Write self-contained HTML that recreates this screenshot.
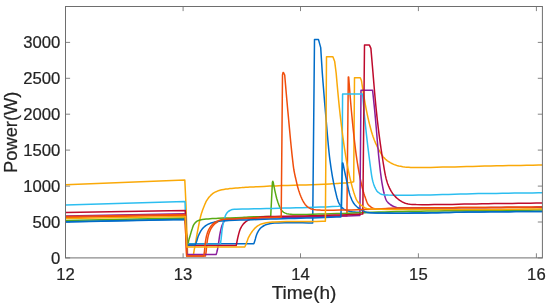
<!DOCTYPE html>
<html lang="en">
<head>
<meta charset="utf-8">
<title>Power vs Time</title>
<style>
html,body{margin:0;padding:0;background:#fff;}
body{width:550px;height:306px;overflow:hidden;}
svg{display:block;}
</style>
</head>
<body>
<svg width="550" height="306" viewBox="0 0 550 306">
<rect width="550" height="306" fill="#fff"/>
<path fill="none" stroke="#6e6e6e" stroke-width="0.85" d="M65.50,257.9 v-4.6 M65.50,6.5 v4.6 M183.10,257.9 v-4.6 M183.10,6.5 v4.6 M300.50,257.9 v-4.6 M300.50,6.5 v4.6 M418.40,257.9 v-4.6 M418.40,6.5 v4.6 M536.40,257.9 v-4.6 M536.40,6.5 v4.6 M65.5,257.9 h4.6 M542.4,257.9 h-4.6 M65.5,222.0 h4.6 M542.4,222.0 h-4.6 M65.5,186.1 h4.6 M542.4,186.1 h-4.6 M65.5,150.1 h4.6 M542.4,150.1 h-4.6 M65.5,114.2 h4.6 M542.4,114.2 h-4.6 M65.5,78.3 h4.6 M542.4,78.3 h-4.6 M65.5,42.4 h4.6 M542.4,42.4 h-4.6"/>
<g fill="none" stroke-width="1.5" stroke-linejoin="round" stroke-linecap="butt">
<path stroke="#FAA908" d="M65.5,184.7 L184.8,180.1 L186.0,205.0 L187.6,254.8 L193.4,254.8 L193.8,252.5 L194.2,250.2 L194.6,247.9 L195.0,245.6 L195.4,243.3 L195.8,241.1 L196.2,238.9 L196.6,236.7 L197.0,234.4 L197.4,232.2 L197.8,230.1 L198.2,228.0 L198.6,226.0 L199.0,224.0 L199.4,222.0 L199.8,220.1 L200.2,218.2 L200.6,216.5 L201.0,215.0 L201.4,213.6 L201.8,212.4 L202.2,211.2 L202.6,210.1 L203.0,209.0 L203.4,208.0 L203.8,207.0 L204.2,206.0 L204.6,205.0 L205.0,204.0 L205.4,203.1 L205.8,202.2 L206.2,201.4 L206.6,200.7 L207.0,200.1 L207.4,199.5 L207.8,198.9 L208.6,197.8 L209.4,196.8 L210.2,196.0 L211.0,195.1 L211.8,194.4 L212.6,193.7 L213.4,193.1 L214.2,192.6 L215.0,192.2 L215.8,191.8 L216.6,191.5 L217.4,191.1 L218.2,190.8 L219.0,190.6 L219.8,190.3 L221.8,189.8 L223.8,189.4 L225.8,189.1 L227.8,188.9 L229.8,188.6 L231.8,188.4 L233.8,188.2 L235.8,188.0 L237.8,187.9 L239.8,187.7 L241.8,187.6 L243.8,187.4 L245.8,187.3 L247.8,187.2 L249.8,187.1 L251.8,187.0 L253.8,186.9 L255.8,186.8 L257.8,186.7 L263.8,186.4 L269.8,186.1 L275.8,185.9 L281.8,185.6 L287.8,185.4 L293.8,185.2 L299.8,185.1 L305.8,184.9 L311.8,184.7 L317.8,184.5 L323.8,184.2 L329.8,183.9 L331.8,183.8 L333.8,183.7 L335.8,183.6 L337.8,183.4 L339.8,183.3 L341.8,183.2 L343.8,183.0 L345.8,182.9 L347.8,182.7 L349.8,182.5 L351.8,182.2 L353.7,181.8 L354.5,77.8 L360.3,77.8 L361.5,80.8 L361.9,83.5 L362.3,86.2 L362.7,88.8 L363.1,91.3 L363.5,93.8 L363.9,96.3 L364.3,98.7 L364.7,101.0 L365.1,103.3 L365.5,105.5 L365.9,107.6 L366.3,109.7 L366.7,111.7 L367.1,113.6 L367.5,115.5 L367.9,117.3 L368.3,119.0 L368.7,120.8 L369.1,122.5 L369.5,124.1 L369.9,125.7 L370.3,127.3 L370.7,128.8 L371.1,130.3 L371.5,131.7 L371.9,133.0 L372.3,134.3 L372.7,135.5 L373.1,136.7 L373.5,137.8 L373.9,138.9 L374.3,140.0 L374.7,141.0 L375.1,141.9 L375.5,142.9 L375.9,143.8 L376.3,144.7 L376.7,145.5 L377.1,146.4 L377.5,147.2 L377.9,148.0 L378.3,148.7 L378.7,149.5 L379.1,150.2 L379.5,150.9 L379.9,151.6 L380.3,152.3 L380.7,153.0 L381.1,153.6 L381.5,154.3 L381.9,154.9 L382.3,155.5 L383.1,156.6 L383.9,157.6 L384.7,158.4 L385.5,159.2 L386.3,159.9 L387.1,160.6 L387.9,161.2 L388.7,161.7 L389.5,162.2 L390.3,162.7 L391.1,163.1 L391.9,163.5 L392.7,163.9 L393.5,164.2 L394.3,164.6 L395.1,164.9 L395.9,165.1 L396.7,165.4 L398.7,165.9 L400.7,166.3 L402.7,166.7 L404.7,167.0 L406.7,167.2 L408.7,167.3 L410.7,167.5 L412.7,167.6 L418.7,167.6 L424.7,167.5 L430.7,167.4 L436.7,167.3 L442.7,167.1 L448.7,167.0 L454.7,166.9 L460.7,166.7 L466.7,166.5 L472.7,166.4 L478.7,166.2 L484.7,166.1 L490.7,166.0 L496.7,165.8 L502.7,165.7 L508.7,165.6 L514.7,165.5 L520.7,165.4 L526.7,165.3 L532.7,165.2 L538.7,165.1 L542.5,165.0"/>
<path stroke="#006CC8" d="M65.5,222.0 L125.0,220.7 L185.4,219.4 L186.9,243.8 L253.8,243.8 L254.2,242.7 L254.6,241.6 L255.0,240.3 L255.4,238.9 L255.8,237.3 L256.2,235.9 L256.6,234.8 L257.0,233.8 L257.4,232.9 L257.8,232.1 L258.2,231.4 L258.6,230.7 L259.0,230.1 L259.4,229.5 L260.2,228.5 L261.0,227.7 L261.8,227.1 L262.6,226.5 L263.4,226.0 L264.2,225.5 L265.0,225.1 L265.8,224.8 L266.6,224.5 L268.6,224.0 L270.6,223.6 L272.6,223.3 L274.6,223.1 L276.6,223.0 L278.6,222.9 L284.6,222.8 L290.6,222.8 L296.6,222.8 L302.6,222.8 L308.6,222.9 L312.7,222.9 L314.5,39.6 L318.5,39.6 L320.7,47.6 L322.3,73.0 L322.7,78.2 L323.1,83.3 L323.5,88.3 L323.9,93.3 L324.3,98.2 L324.7,103.1 L325.1,107.8 L325.5,112.5 L325.9,117.2 L326.3,121.8 L326.7,126.5 L327.1,131.3 L327.5,136.0 L327.9,140.5 L328.3,144.9 L328.7,149.1 L329.1,153.0 L329.5,156.6 L329.9,159.8 L330.3,162.7 L330.7,165.6 L331.1,168.3 L331.5,170.9 L331.9,173.4 L332.3,175.8 L332.7,178.1 L333.1,180.2 L333.5,182.3 L333.9,184.3 L334.3,186.2 L334.7,188.0 L335.1,189.8 L335.5,191.5 L335.9,193.2 L336.3,194.9 L336.7,196.5 L337.1,198.0 L337.5,199.3 L337.9,200.6 L338.3,201.7 L338.7,202.6 L339.1,203.4 L339.5,204.1 L339.9,204.7 L340.3,205.3 L341.1,206.5 L341.9,207.4 L342.7,208.2 L343.5,208.8 L344.3,209.3 L345.1,209.7 L345.9,210.1 L346.7,210.4 L347.5,210.7 L348.3,210.9 L350.3,211.4 L352.3,211.7 L354.3,211.9 L356.3,212.2 L358.3,212.3 L360.3,212.4 L366.3,212.6 L372.3,212.8 L378.3,213.0 L384.3,213.1 L390.3,213.2 L396.3,213.2 L402.3,213.2 L408.3,213.2 L414.3,213.1 L420.3,213.0 L426.3,212.9 L432.3,212.8 L438.3,212.7 L444.3,212.5 L450.3,212.4 L456.3,212.3 L462.3,212.2 L468.3,212.1 L474.3,212.0 L480.3,211.9 L486.3,211.8 L492.3,211.8 L498.3,211.7 L504.3,211.7 L510.3,211.7 L516.3,211.6 L522.3,211.6 L528.3,211.5 L534.3,211.5 L540.3,211.5 L542.5,211.5"/>
<path stroke="#F04E0C" d="M65.5,217.5 L125.0,216.2 L184.9,215.2 L186.7,256.1 L205.4,256.1 L205.8,254.1 L206.2,251.1 L206.6,246.4 L207.0,242.9 L207.4,240.1 L207.8,237.8 L208.2,236.0 L208.6,234.6 L209.0,233.3 L209.4,232.1 L209.8,231.1 L210.2,230.2 L210.6,229.4 L211.0,228.7 L211.4,228.0 L211.8,227.4 L212.6,226.3 L213.4,225.3 L214.2,224.4 L215.0,223.6 L215.8,223.0 L216.6,222.5 L217.4,222.0 L218.2,221.6 L219.0,221.2 L219.8,220.8 L220.6,220.5 L221.4,220.2 L222.2,219.9 L223.0,219.7 L225.0,219.3 L227.0,219.2 L229.0,219.0 L235.0,218.8 L241.0,218.5 L247.0,218.2 L253.0,218.0 L259.0,217.8 L265.0,217.6 L271.0,217.4 L277.0,217.3 L283.0,217.2 L289.0,217.0 L295.0,216.9 L301.0,216.8 L307.0,216.7 L313.0,216.6 L319.0,216.5 L325.0,216.4 L331.0,216.3 L337.0,216.2 L343.0,216.1 L346.9,216.0 L348.3,77.1 L348.7,77.1 L349.1,82.5 L349.5,87.7 L349.9,92.8 L350.3,97.8 L350.7,102.7 L351.1,107.3 L351.5,111.8 L351.9,116.0 L352.3,120.1 L352.7,124.1 L353.1,128.1 L353.5,131.9 L353.9,135.7 L354.3,139.3 L354.7,142.8 L355.1,146.2 L355.5,149.5 L355.9,152.6 L356.3,155.6 L356.7,158.3 L357.1,161.0 L357.5,163.5 L357.9,165.9 L358.3,168.3 L358.7,170.6 L359.1,172.8 L359.5,174.9 L359.9,177.0 L360.3,179.0 L360.7,180.9 L361.1,182.7 L361.5,184.5 L361.9,186.2 L362.3,187.8 L362.7,189.4 L363.1,190.8 L363.5,192.2 L363.9,193.5 L364.3,194.7 L364.7,195.9 L365.1,197.0 L365.5,198.2 L365.9,199.3 L366.3,200.4 L366.7,201.5 L367.1,202.5 L367.5,203.3 L367.9,204.1 L368.3,204.7 L369.1,205.6 L369.9,206.2 L370.7,206.8 L371.5,207.4 L372.3,207.8 L373.1,208.3 L373.9,208.6 L374.7,208.8 L376.7,209.0 L382.7,208.9 L388.7,208.6 L390.7,208.5 L392.7,208.4 L398.7,208.1 L404.7,208.0 L410.7,208.0 L416.7,207.9 L422.7,207.8 L428.7,207.8 L434.7,207.8 L440.7,207.7 L446.7,207.7 L452.7,207.7 L458.7,207.6 L464.7,207.6 L470.7,207.6 L476.7,207.5 L482.7,207.5 L488.7,207.4 L494.7,207.4 L500.7,207.4 L506.7,207.3 L512.7,207.3 L518.7,207.2 L524.7,207.2 L530.7,207.2 L536.7,207.1 L542.5,207.1"/>
<path stroke="#8A1E9C" d="M65.5,215.9 L185.3,213.7 L187.0,254.6 L216.0,254.6 L216.4,253.6 L216.8,252.4 L217.2,250.8 L217.6,248.9 L218.0,246.7 L218.4,244.4 L218.8,241.7 L219.2,238.7 L219.6,235.9 L220.0,233.6 L220.4,231.6 L220.8,229.8 L221.2,228.1 L221.6,226.7 L222.0,225.5 L222.4,224.6 L222.8,223.7 L223.2,222.9 L223.6,222.2 L224.0,221.6 L224.8,220.7 L225.6,220.3 L226.4,220.0 L227.2,219.8 L229.2,219.4 L231.2,219.2 L233.2,219.0 L235.2,218.9 L237.2,218.8 L239.2,218.7 L245.2,218.5 L251.2,218.3 L257.2,218.1 L263.2,218.0 L269.2,217.8 L275.2,217.7 L281.2,217.5 L287.2,217.4 L293.2,217.3 L299.2,217.2 L305.2,217.1 L311.2,216.9 L317.2,216.8 L323.2,216.6 L329.2,216.5 L335.2,216.3 L341.2,216.1 L347.2,216.0 L353.2,215.8 L359.2,215.6 L359.9,215.6 L361.0,90.3 L372.6,90.3 L373.0,94.1 L373.4,97.9 L373.8,101.8 L374.2,105.7 L374.6,109.8 L375.0,113.9 L375.4,118.1 L375.8,122.6 L376.2,127.3 L376.6,132.0 L377.0,136.9 L377.4,141.7 L377.8,146.3 L378.2,150.8 L378.6,155.1 L379.0,159.0 L379.4,162.7 L379.8,166.3 L380.2,169.8 L380.6,173.1 L381.0,176.2 L381.4,179.1 L381.8,181.8 L382.2,184.2 L382.6,186.4 L383.0,188.5 L383.4,190.5 L383.8,192.3 L384.2,193.9 L384.6,195.3 L385.0,196.7 L385.4,198.0 L385.8,199.1 L386.2,200.0 L386.6,200.8 L387.0,201.4 L387.8,202.4 L388.6,203.2 L389.4,203.8 L390.2,204.5 L391.0,205.0 L391.8,205.5 L392.6,206.0 L393.4,206.3 L394.2,206.6 L395.0,206.9 L395.8,207.2 L396.6,207.5 L397.4,207.7 L399.4,208.1 L401.4,208.1 L407.4,208.1 L413.4,208.1 L419.4,208.1 L425.4,208.0 L431.4,208.0 L437.4,208.0 L443.4,207.9 L449.4,207.9 L455.4,207.9 L461.4,207.8 L467.4,207.8 L473.4,207.7 L479.4,207.7 L485.4,207.7 L491.4,207.6 L497.4,207.6 L503.4,207.6 L509.4,207.5 L515.4,207.5 L521.4,207.4 L527.4,207.4 L533.4,207.4 L539.4,207.3 L542.5,207.3"/>
<path stroke="#58AA14" d="M65.5,220.5 L125.0,219.3 L185.4,218.0 L186.9,244.0 L188.2,244.0 L188.6,241.0 L189.0,239.3 L189.4,238.1 L189.8,236.8 L190.2,235.4 L190.6,234.0 L191.0,232.6 L191.4,231.3 L191.8,230.0 L192.2,228.8 L192.6,227.5 L193.0,226.4 L193.4,225.4 L193.8,224.6 L194.6,223.5 L195.4,222.6 L196.2,221.8 L197.0,221.2 L197.8,220.8 L198.6,220.5 L199.4,220.2 L200.2,219.9 L202.2,219.5 L204.2,219.3 L206.2,219.1 L208.2,218.9 L210.2,218.7 L212.2,218.6 L214.2,218.5 L216.2,218.4 L218.2,218.3 L224.2,218.1 L230.2,217.9 L236.2,217.7 L242.2,217.4 L244.2,217.3 L246.2,217.2 L248.2,217.1 L254.2,216.8 L260.2,216.7 L266.2,216.5 L270.7,216.5 L272.4,182.2 L272.8,181.3 L273.2,182.2 L273.6,184.4 L274.0,186.4 L274.4,188.4 L274.8,190.3 L275.2,192.1 L275.6,193.9 L276.0,195.6 L276.4,197.2 L276.8,198.7 L277.2,200.0 L277.6,201.3 L278.0,202.5 L278.4,203.6 L278.8,204.7 L279.2,205.6 L279.6,206.6 L280.0,207.5 L280.4,208.3 L280.8,209.1 L281.2,209.7 L282.0,210.7 L282.8,211.6 L283.6,212.3 L284.4,212.7 L285.2,213.1 L286.0,213.4 L286.8,213.7 L288.8,214.1 L290.8,214.3 L292.8,214.5 L294.8,214.6 L300.8,214.6 L306.8,214.4 L312.8,214.3 L318.8,214.1 L324.8,214.0 L330.8,213.8 L336.8,213.6 L342.8,213.4 L348.8,213.2 L354.8,213.0 L360.8,212.8 L366.8,212.5 L372.8,212.3 L378.8,212.1 L384.8,211.9 L390.8,211.7 L396.8,211.6 L402.8,211.4 L408.8,211.3 L414.8,211.2 L420.8,211.2 L426.8,211.1 L432.8,211.0 L438.8,210.9 L444.8,210.8 L450.8,210.8 L456.8,210.7 L462.8,210.7 L468.8,210.6 L474.8,210.6 L480.8,210.5 L486.8,210.5 L492.8,210.4 L498.8,210.4 L504.8,210.3 L510.8,210.3 L516.8,210.2 L522.8,210.2 L528.8,210.2 L534.8,210.1 L540.8,210.1 L542.5,210.1"/>
<path stroke="#2CBEF0" d="M65.5,205.0 L125.0,203.2 L185.0,201.6 L186.6,244.2 L220.3,244.2 L220.7,242.0 L221.1,239.2 L221.5,235.3 L221.9,231.3 L222.3,228.4 L222.7,226.2 L223.1,224.2 L223.5,222.5 L223.9,220.9 L224.3,219.4 L224.7,217.9 L225.1,216.6 L225.5,215.4 L225.9,214.6 L226.3,213.9 L226.7,213.3 L227.5,212.3 L228.3,211.5 L229.1,211.0 L229.9,210.5 L230.7,210.1 L231.5,209.8 L232.3,209.5 L234.3,209.3 L236.3,209.2 L242.3,209.0 L248.3,208.9 L254.3,208.8 L260.3,208.7 L266.3,208.5 L272.3,208.4 L278.3,208.3 L284.3,208.1 L290.3,208.0 L296.3,207.8 L302.3,207.7 L308.3,207.5 L314.3,207.3 L320.3,207.1 L326.3,206.9 L332.3,206.6 L338.3,206.3 L340.3,206.1 L341.7,206.0 L342.6,94.0 L362.6,94.0 L364.4,115.0 L364.8,119.0 L365.2,122.9 L365.6,126.7 L366.0,130.4 L366.4,134.1 L366.8,137.7 L367.2,141.2 L367.6,144.6 L368.0,147.9 L368.4,151.2 L368.8,154.4 L369.2,157.5 L369.6,160.5 L370.0,163.6 L370.4,166.7 L370.8,169.7 L371.2,172.6 L371.6,175.3 L372.0,177.6 L372.4,179.6 L372.8,181.2 L373.2,182.6 L373.6,183.9 L374.0,185.1 L374.4,186.1 L374.8,187.1 L375.2,187.9 L375.6,188.8 L376.0,189.5 L376.4,190.2 L376.8,190.9 L377.6,191.8 L378.4,192.4 L379.2,193.0 L380.0,193.6 L380.8,194.0 L381.6,194.4 L382.4,194.6 L384.4,194.9 L386.4,195.0 L388.4,195.1 L394.4,195.2 L400.4,195.3 L406.4,195.3 L412.4,195.2 L418.4,195.1 L424.4,195.0 L430.4,194.9 L436.4,194.7 L442.4,194.5 L448.4,194.4 L454.4,194.2 L460.4,194.0 L466.4,193.9 L472.4,193.7 L478.4,193.6 L484.4,193.5 L490.4,193.4 L496.4,193.4 L502.4,193.3 L508.4,193.2 L514.4,193.1 L520.4,193.0 L526.4,193.0 L532.4,192.9 L538.4,192.8 L542.5,192.8"/>
<path stroke="#BE0A2C" d="M65.5,212.6 L125.0,211.6 L185.3,210.5 L187.0,245.6 L236.2,245.6 L236.6,243.5 L237.0,241.5 L237.4,239.5 L237.8,237.7 L238.2,236.0 L238.6,234.4 L239.0,232.9 L239.4,231.5 L239.8,230.3 L240.2,229.2 L240.6,228.4 L241.0,227.6 L241.4,226.8 L241.8,226.2 L242.2,225.5 L242.6,225.0 L243.4,223.9 L244.2,223.1 L245.0,222.4 L245.8,221.7 L246.6,221.1 L247.4,220.6 L248.2,220.2 L249.0,219.8 L249.8,219.4 L250.6,219.1 L251.4,218.8 L252.2,218.5 L253.0,218.3 L255.0,217.8 L257.0,217.4 L259.0,217.2 L261.0,216.9 L263.0,216.8 L269.0,216.6 L275.0,216.4 L281.0,216.3 L287.0,216.2 L293.0,216.1 L299.0,216.0 L305.0,215.9 L311.0,215.8 L317.0,215.7 L323.0,215.5 L329.0,215.3 L335.0,215.1 L341.0,214.9 L347.0,214.7 L353.0,214.5 L359.0,214.3 L362.8,214.1 L364.5,45.1 L369.4,45.1 L370.9,48.4 L373.0,73.0 L373.4,77.9 L373.8,82.8 L374.2,87.5 L374.6,92.2 L375.0,96.7 L375.4,101.1 L375.8,105.3 L376.2,109.4 L376.6,113.2 L377.0,116.9 L377.4,120.5 L377.8,123.9 L378.2,127.3 L378.6,130.6 L379.0,133.8 L379.4,136.9 L379.8,139.9 L380.2,142.9 L380.6,145.7 L381.0,148.5 L381.4,151.2 L381.8,153.9 L382.2,156.5 L382.6,159.0 L383.0,161.5 L383.4,164.0 L383.8,166.4 L384.2,168.8 L384.6,171.1 L385.0,173.3 L385.4,175.4 L385.8,177.2 L386.2,178.9 L386.6,180.3 L387.0,181.6 L387.4,182.9 L387.8,184.0 L388.2,185.0 L388.6,186.0 L389.0,186.9 L389.4,187.8 L389.8,188.6 L390.2,189.4 L390.6,190.1 L391.0,190.9 L391.4,191.6 L391.8,192.2 L392.2,192.8 L392.6,193.4 L393.4,194.5 L394.2,195.5 L395.0,196.3 L395.8,197.1 L396.6,197.9 L397.4,198.5 L398.2,199.2 L399.0,199.8 L399.8,200.4 L400.6,200.9 L401.4,201.4 L402.2,201.9 L403.0,202.3 L403.8,202.6 L404.6,203.0 L405.4,203.3 L406.2,203.5 L408.2,203.9 L410.2,204.2 L412.2,204.4 L414.2,204.5 L416.2,204.6 L422.2,204.7 L428.2,204.7 L434.2,204.6 L440.2,204.6 L446.2,204.5 L452.2,204.4 L458.2,204.3 L464.2,204.1 L470.2,204.0 L476.2,203.9 L482.2,203.8 L488.2,203.7 L494.2,203.6 L500.2,203.5 L506.2,203.4 L512.2,203.4 L518.2,203.3 L524.2,203.2 L530.2,203.2 L536.2,203.1 L542.2,203.1 L542.5,203.1"/>
<path stroke="#006CC8" d="M65.5,221.8 L125.0,220.5 L185.4,219.2 L186.9,245.0 L195.0,245.0 L195.8,243.6 L196.2,242.6 L196.6,241.5 L197.0,240.2 L197.4,238.8 L197.8,237.5 L198.2,236.3 L198.6,235.4 L199.0,234.5 L199.4,233.6 L199.8,232.8 L200.2,232.1 L200.6,231.4 L201.0,230.7 L201.4,230.1 L202.2,229.0 L203.0,228.1 L203.8,227.3 L204.6,226.6 L205.4,225.9 L206.2,225.3 L207.0,224.8 L207.8,224.4 L208.6,224.0 L209.4,223.7 L210.2,223.3 L211.0,223.1 L211.8,222.8 L212.6,222.6 L214.6,222.0 L216.6,221.6 L218.6,221.3 L220.6,221.1 L222.6,220.9 L224.6,220.8 L226.6,220.7 L228.6,220.6 L234.6,220.3 L240.6,220.1 L246.6,219.9 L252.6,219.7 L258.6,219.5 L264.6,219.3 L270.6,219.1 L276.6,218.9 L282.6,218.8 L288.6,218.6 L294.6,218.4 L300.6,218.2 L306.6,218.1 L312.6,217.9 L318.6,217.7 L324.6,217.5 L330.6,217.3 L336.6,217.1 L340.9,217.0 L342.4,163.1 L342.9,163.1 L343.3,165.0 L343.7,167.0 L344.1,168.9 L344.5,170.8 L344.9,172.6 L345.3,174.5 L345.7,176.4 L346.1,178.2 L346.5,180.0 L346.9,181.9 L347.3,183.8 L347.7,185.7 L348.1,187.6 L348.5,189.5 L348.9,191.2 L349.3,192.8 L349.7,194.2 L350.1,195.4 L350.5,196.5 L350.9,197.5 L351.3,198.5 L351.7,199.5 L352.1,200.4 L352.5,201.2 L352.9,201.9 L353.3,202.6 L353.7,203.3 L354.5,204.3 L355.3,205.2 L356.1,206.0 L356.9,206.8 L357.7,207.5 L358.5,208.0 L359.3,208.6 L360.1,209.1 L360.9,209.5 L361.7,210.0 L362.5,210.4 L363.3,210.8 L364.1,211.2 L364.9,211.6 L365.7,211.9 L366.5,212.2 L368.5,212.6 L370.5,212.7 L376.5,212.9 L382.5,213.0 L388.5,213.1 L394.5,213.2 L400.5,213.2 L406.5,213.2 L412.5,213.1 L418.5,213.1 L424.5,213.0 L430.5,212.8 L436.5,212.7 L442.5,212.6 L448.5,212.5 L454.5,212.3 L460.5,212.2 L466.5,212.1 L472.5,212.0 L478.5,211.9 L484.5,211.9 L490.5,211.8 L496.5,211.8 L502.5,211.7 L508.5,211.7 L514.5,211.6 L520.5,211.6 L526.5,211.6 L532.5,211.5 L538.5,211.5 L542.5,211.5"/>
<path stroke="#F04E0C" d="M65.5,216.5 L125.0,215.4 L184.9,214.5 L186.7,256.1 L203.7,256.1 L204.1,254.1 L204.5,251.1 L204.9,246.4 L205.3,242.9 L205.7,240.1 L206.1,237.8 L206.5,236.0 L206.9,234.6 L207.3,233.3 L207.7,232.1 L208.1,231.1 L208.5,230.2 L208.9,229.4 L209.3,228.7 L209.7,228.0 L210.1,227.4 L210.9,226.3 L211.7,225.3 L212.5,224.4 L213.3,223.6 L214.1,223.0 L214.9,222.5 L215.7,222.0 L216.5,221.6 L217.3,221.2 L218.1,220.8 L218.9,220.5 L219.7,220.2 L220.5,219.9 L221.3,219.7 L223.3,219.3 L225.3,219.2 L227.3,219.1 L233.3,218.9 L239.3,218.6 L245.3,218.3 L251.3,218.1 L257.3,217.8 L263.3,217.6 L269.3,217.5 L275.3,217.3 L281.2,217.2 L282.5,75.0 L283.0,72.6 L283.5,72.6 L284.7,75.0 L285.1,79.7 L285.5,84.4 L285.9,89.1 L286.3,93.7 L286.7,98.2 L287.1,102.7 L287.5,107.2 L287.9,111.6 L288.3,115.9 L288.7,120.2 L289.1,124.6 L289.5,128.9 L289.9,133.2 L290.3,137.5 L290.7,141.7 L291.1,145.8 L291.5,149.7 L291.9,153.6 L292.3,157.2 L292.7,160.7 L293.1,164.2 L293.5,167.3 L293.9,170.0 L294.3,172.2 L294.7,174.2 L295.1,176.0 L295.5,177.8 L295.9,179.4 L296.3,181.2 L296.7,182.9 L297.1,184.6 L297.5,186.2 L297.9,187.7 L298.3,189.1 L298.7,190.4 L299.1,191.6 L299.5,192.8 L299.9,193.9 L300.3,195.0 L300.7,196.0 L301.1,197.0 L301.5,197.9 L301.9,198.8 L302.3,199.6 L302.7,200.5 L303.1,201.2 L303.5,202.0 L303.9,202.6 L304.3,203.2 L305.1,204.4 L305.9,205.3 L306.7,206.2 L307.5,206.8 L308.3,207.4 L309.1,207.9 L309.9,208.4 L310.7,208.7 L311.5,209.0 L313.5,209.5 L315.5,209.8 L317.5,210.0 L319.5,210.1 L321.5,210.2 L327.5,210.3 L333.5,210.2 L339.5,210.1 L345.5,210.0 L351.5,209.9 L357.5,209.7 L363.5,209.5 L369.5,209.2 L375.5,209.0 L381.5,208.8 L387.5,208.5 L393.5,208.3 L399.5,208.1 L405.5,208.0 L411.5,208.0 L417.5,207.9 L423.5,207.8 L429.5,207.8 L435.5,207.8 L441.5,207.7 L447.5,207.7 L453.5,207.7 L459.5,207.6 L465.5,207.6 L471.5,207.6 L477.5,207.5 L483.5,207.5 L489.5,207.4 L495.5,207.4 L501.5,207.4 L507.5,207.3 L513.5,207.3 L519.5,207.2 L525.5,207.2 L531.5,207.2 L537.5,207.1 L542.5,207.1"/>
<path stroke="#FAA908" d="M65.5,218.6 L125.0,217.4 L185.4,216.4 L187.0,247.1 L244.6,247.1 L245.0,246.4 L245.4,245.6 L245.8,244.7 L246.2,243.7 L246.6,242.6 L247.0,241.5 L247.4,240.4 L247.8,239.2 L248.2,238.2 L248.6,237.4 L249.0,236.6 L249.4,235.8 L249.8,235.1 L250.2,234.5 L250.6,233.8 L251.0,233.2 L251.4,232.6 L251.8,232.0 L252.6,230.9 L253.4,229.9 L254.2,229.0 L255.0,228.1 L255.8,227.4 L256.6,226.7 L257.4,226.1 L258.2,225.5 L259.0,225.1 L259.8,224.6 L260.6,224.3 L261.4,223.9 L262.2,223.7 L264.2,223.2 L266.2,222.8 L268.2,222.5 L270.2,222.2 L272.2,222.1 L274.2,222.0 L280.2,221.7 L286.2,221.6 L292.2,221.6 L298.2,221.6 L304.2,221.5 L310.2,221.4 L316.2,221.4 L322.2,221.3 L325.4,221.2 L326.5,56.8 L332.9,56.8 L334.7,61.6 L336.2,73.5 L336.6,78.1 L337.0,82.7 L337.4,87.1 L337.8,91.5 L338.2,95.8 L338.6,99.9 L339.0,103.9 L339.4,107.8 L339.8,111.5 L340.2,115.1 L340.6,118.6 L341.0,122.0 L341.4,125.3 L341.8,128.5 L342.2,131.7 L342.6,134.8 L343.0,137.8 L343.4,140.7 L343.8,143.6 L344.2,146.4 L344.6,149.1 L345.0,151.7 L345.4,154.2 L345.8,156.7 L346.2,159.0 L346.6,161.3 L347.0,163.5 L347.4,165.6 L347.8,167.7 L348.2,169.7 L348.6,171.6 L349.0,173.5 L349.4,175.3 L349.8,177.1 L350.2,178.8 L350.6,180.5 L351.0,182.2 L351.4,183.8 L351.8,185.4 L352.2,186.9 L352.6,188.4 L353.0,189.8 L353.4,191.1 L353.8,192.4 L354.2,193.6 L354.6,194.8 L355.0,195.9 L355.4,197.1 L355.8,198.1 L356.2,199.1 L356.6,199.9 L357.0,200.6 L357.4,201.2 L358.2,202.3 L359.0,203.3 L359.8,204.1 L360.6,204.8 L361.4,205.4 L362.2,206.0 L363.0,206.6 L363.8,207.1 L364.6,207.6 L365.4,208.0 L366.2,208.3 L367.0,208.5 L369.0,208.8 L371.0,208.9 L373.0,209.1 L375.0,209.1 L381.0,209.3 L387.0,209.5 L393.0,209.6 L399.0,209.6 L405.0,209.6 L411.0,209.6 L417.0,209.6 L423.0,209.6 L429.0,209.6 L435.0,209.6 L441.0,209.6 L447.0,209.6 L453.0,209.6 L459.0,209.6 L465.0,209.6 L471.0,209.6 L477.0,209.6 L483.0,209.6 L489.0,209.5 L495.0,209.5 L501.0,209.4 L507.0,209.3 L513.0,209.3 L519.0,209.2 L525.0,209.1 L531.0,209.0 L537.0,208.9 L542.5,208.8"/>
</g>
<rect x="65.5" y="6.5" width="476.9" height="251.4" fill="none" stroke="#6e6e6e" stroke-width="1"/>
<g font-family="'Liberation Sans', Arial, Helvetica, sans-serif" fill="#242424" stroke="#242424" stroke-width="0.22">
<g font-size="16.7" text-anchor="middle">
<text x="65.50" y="279.6">12</text>
<text x="183.10" y="279.6">13</text>
<text x="300.50" y="279.6">14</text>
<text x="418.40" y="279.6">15</text>
<text x="536.40" y="279.6">16</text>
</g>
<g font-size="16.7" text-anchor="end">
<text x="60.4" y="263.7">0</text>
<text x="60.4" y="227.8">500</text>
<text x="60.4" y="191.9">1000</text>
<text x="60.4" y="155.9">1500</text>
<text x="60.4" y="120.0">2000</text>
<text x="60.4" y="84.1">2500</text>
<text x="60.4" y="48.2">3000</text>
</g>
<text font-size="19" text-anchor="middle" x="304" y="299.4">Time(h)</text>
<text font-size="18.3" text-anchor="middle" transform="translate(17.3,132.3) rotate(-90)">Power(W)</text>
</g>
</svg>
</body>
</html>
